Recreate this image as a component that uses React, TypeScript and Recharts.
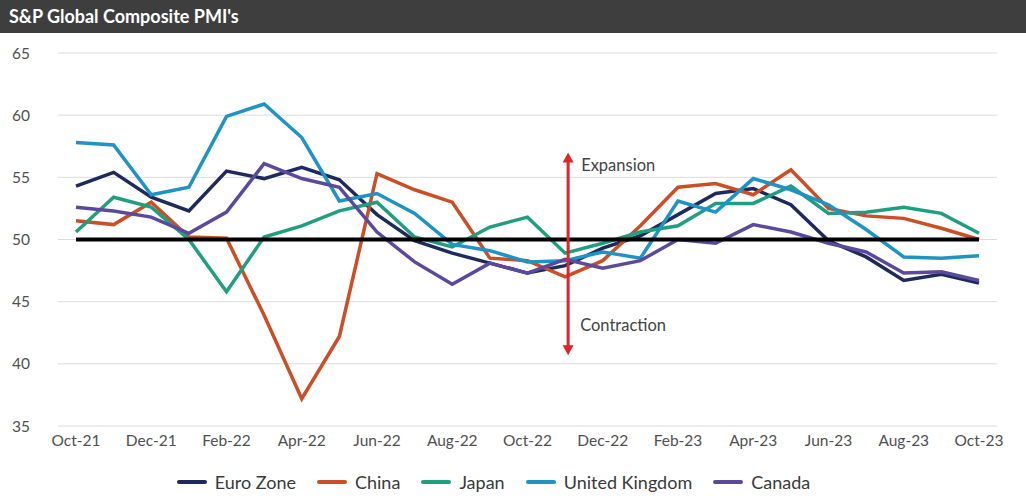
import React from 'react';
import {
  LineChart,
  Line,
  CartesianGrid,
  XAxis,
  YAxis,
  Legend,
  ReferenceLine,
  ReferenceDot,
} from 'recharts';

// Monthly composite PMI readings, Oct-21 .. Oct-23
const months = [
  'Oct-21', 'Nov-21', 'Dec-21', 'Jan-22', 'Feb-22', 'Mar-22', 'Apr-22', 'May-22', 'Jun-22',
  'Jul-22', 'Aug-22', 'Sep-22', 'Oct-22', 'Nov-22', 'Dec-22', 'Jan-23', 'Feb-23', 'Mar-23',
  'Apr-23', 'May-23', 'Jun-23', 'Jul-23', 'Aug-23', 'Sep-23', 'Oct-23',
];

const euroZone = [54.3, 55.4, 53.4, 52.3, 55.5, 54.9, 55.8, 54.8, 52.0, 49.9, 48.9, 48.1, 47.3, 47.9, 49.3, 50.3, 52.0, 53.7, 54.1, 52.8, 49.9, 48.6, 46.7, 47.2, 46.5];
const china = [51.5, 51.2, 53.0, 50.2, 50.1, 43.9, 37.2, 42.2, 55.3, 54.0, 53.0, 48.5, 48.3, 47.0, 48.3, 51.1, 54.2, 54.5, 53.6, 55.6, 52.5, 51.9, 51.7, 50.9, 50.0];
const japan = [50.6, 53.4, 52.6, 50.0, 45.8, 50.2, 51.1, 52.3, 53.0, 50.2, 49.4, 51.0, 51.8, 48.9, 49.7, 50.6, 51.1, 52.9, 52.9, 54.3, 52.1, 52.2, 52.6, 52.1, 50.5];
const unitedKingdom = [57.8, 57.6, 53.6, 54.2, 59.9, 60.9, 58.2, 53.1, 53.7, 52.1, 49.6, 49.1, 48.2, 48.3, 49.0, 48.5, 53.1, 52.2, 54.9, 54.0, 52.8, 50.8, 48.6, 48.5, 48.7];
const canada = [52.6, 52.3, 51.8, 50.5, 52.2, 56.1, 54.9, 54.2, 50.6, 48.2, 46.4, 48.1, 47.3, 48.4, 47.7, 48.3, 50.0, 49.7, 51.2, 50.6, 49.7, 49.0, 47.3, 47.4, 46.7];

const yTicks = [35, 40, 45, 50, 55, 60, 65];
const threshold = 50;
const arrowRange = [40.7, 57.0];

const series = [
  { key: 'euroZone', name: 'Euro Zone', color: '#1d2a5b' },
  { key: 'china', name: 'China', color: '#cc4e27' },
  { key: 'japan', name: 'Japan', color: '#1f9e80' },
  { key: 'unitedKingdom', name: 'United Kingdom', color: '#1e93c4' },
  { key: 'canada', name: 'Canada', color: '#5b4a9c' },
];

const chartData = months.map((month, i) => ({
  month,
  euroZone: euroZone[i],
  china: china[i],
  japan: japan[i],
  unitedKingdom: unitedKingdom[i],
  canada: canada[i],
}));

// Double-headed red arrow marking expansion / contraction
const DoubleArrow = (props: any) => {
  const { x1, y1, y2 } = props;
  const x = x1 + 3;
  const top = Math.min(y1, y2);
  const bottom = Math.max(y1, y2);
  const head = 10;
  const half = 5.5;
  const color = '#e1232b';
  return (
    <g>
      <line x1={x} x2={x} y1={top + head - 1} y2={bottom - head + 1} stroke={color} strokeWidth={3} />
      <polygon points={`${x},${top} ${x - half},${top + head} ${x + half},${top + head}`} fill={color} />
      <polygon points={`${x},${bottom} ${x - half},${bottom - head} ${x + half},${bottom - head}`} fill={color} />
    </g>
  );
};

// Legend keeps the series order rather than the default alphabetical one
const renderLegend = () => (
  <div style={{ display: 'flex', justifyContent: 'center', alignItems: 'center', height: 28, marginLeft: -10 }}>
    {series.map((s, i) => (
      <span key={s.key} style={{ display: 'flex', alignItems: 'center', marginLeft: i === 0 ? 0 : 21 }}>
        <span style={{ width: 30, height: 4, borderRadius: 2, background: s.color, marginRight: 8 }} />
        <span style={{ fontSize: 18, color: '#3a3a3a' }}>{s.name}</span>
      </span>
    ))}
  </div>
);

const App: React.FC = () => {
  return (
    <div
      style={{
        position: 'absolute',
        top: 0,
        left: 0,
        width: 1026,
        height: 502,
        background: '#ffffff',
        fontFamily: 'Lato, sans-serif',
      }}
    >
      <div
        style={{
          position: 'absolute',
          top: 0,
          left: 0,
          width: 1026,
          height: 33,
          background: '#3e3e3e',
          color: '#ffffff',
          fontSize: 18,
          fontWeight: 700,
          lineHeight: '33px',
          paddingLeft: 9,
          boxSizing: 'border-box',
          zIndex: 1,
        }}
      >
        S&amp;P Global Composite PMI's
      </div>
      <LineChart width={1026} height={502} data={chartData} margin={{ top: 53, right: 29, left: 0, bottom: 6 }}>
        <CartesianGrid vertical={false} stroke="#dcdcdc" strokeWidth={1} />
        <XAxis
          dataKey="month"
          interval={1}
          axisLine={false}
          tickLine={false}
          tickSize={0}
          tickMargin={9}
          height={42}
          padding={{ left: 18, right: 18 }}
          tick={{ fontSize: 15.5, fill: '#505050' }}
        />
        <YAxis
          domain={[35, 65]}
          ticks={yTicks}
          width={58}
          axisLine={false}
          tickLine={false}
          tickSize={0}
          tickMargin={28}
          tick={{ fontSize: 15.5, fill: '#505050' }}
        />
        <Legend verticalAlign="bottom" height={28} content={renderLegend} />
        {series.map(s => (
          <Line
            key={s.key}
            type="linear"
            dataKey={s.key}
            name={s.name}
            stroke={s.color}
            strokeWidth={3.5}
            dot={false}
            activeDot={false}
            isAnimationActive={false}
          />
        ))}
        <ReferenceLine
          segment={[{ x: months[0], y: threshold }, { x: months[months.length - 1], y: threshold }]}
          stroke="#000000"
          strokeWidth={4}
        />
        <ReferenceLine
          segment={[{ x: 'Nov-22', y: arrowRange[0] }, { x: 'Nov-22', y: arrowRange[1] }]}
          shape={DoubleArrow}
        />
        <ReferenceDot
          x="Nov-22"
          y={56.0}
          r={0}
          fill="none"
          stroke="none"
          label={{ value: 'Expansion', position: 'right', offset: 16, fontSize: 16.5, fill: '#444444' }}
        />
        <ReferenceDot
          x="Nov-22"
          y={43.1}
          r={0}
          fill="none"
          stroke="none"
          label={{ value: 'Contraction', position: 'right', offset: 15, fontSize: 16.5, fill: '#444444' }}
        />
      </LineChart>
    </div>
  );
};

export default App;
